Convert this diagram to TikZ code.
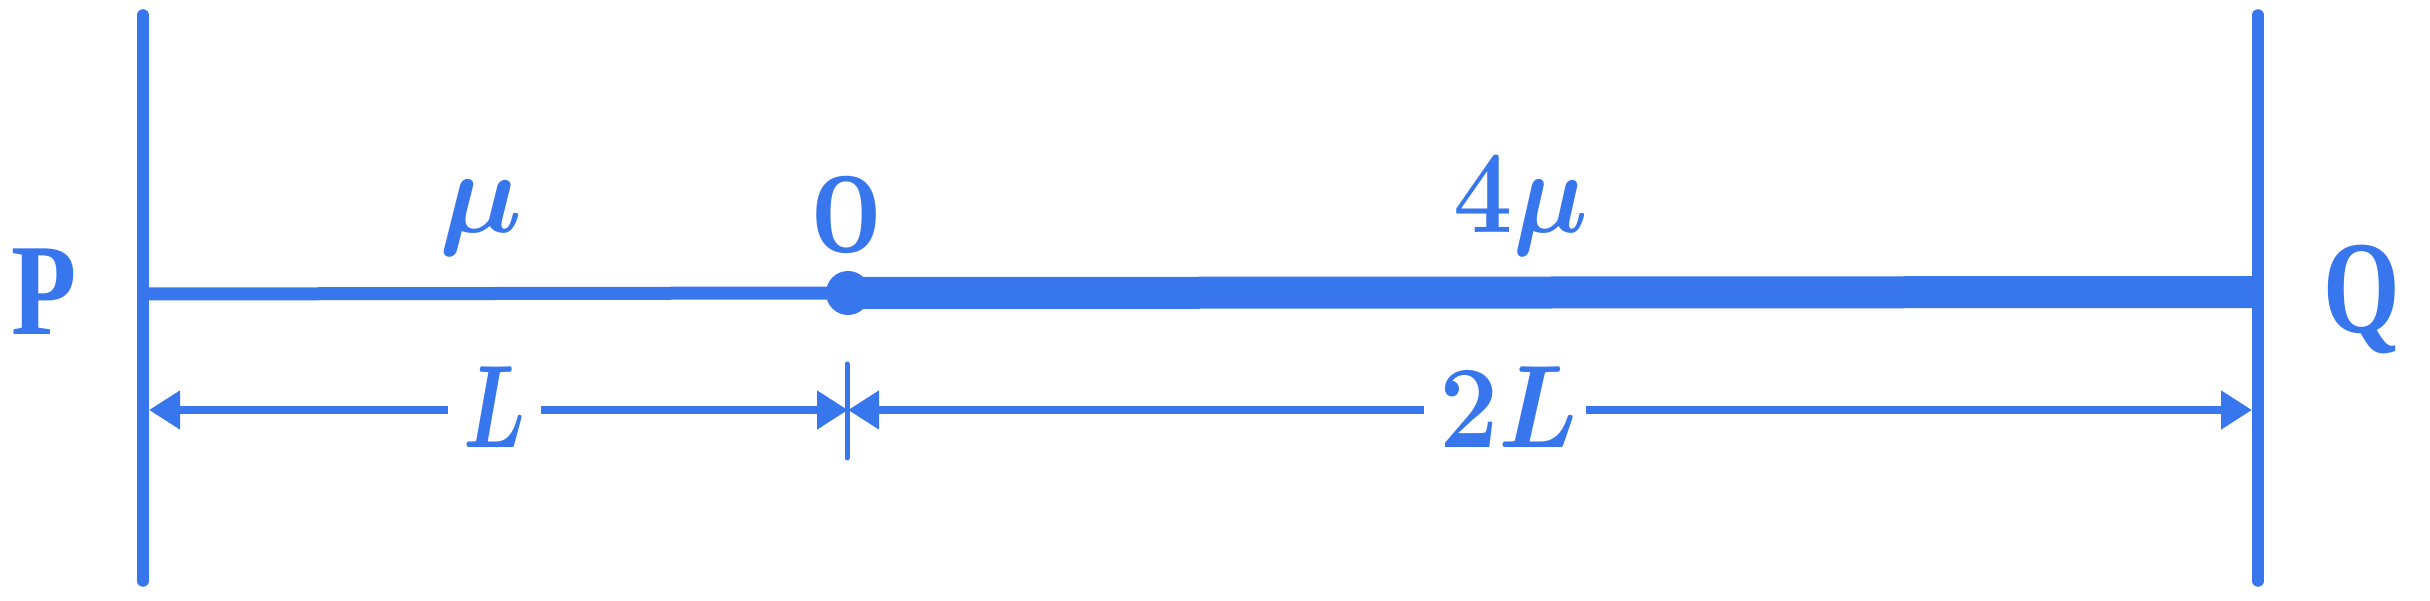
\documentclass[tikz,border=0pt]{standalone}
\usepackage{graphicx}
\usepackage{fontspec}
\newfontfamily\labfont{Liberation Serif}
\usetikzlibrary{arrows.meta}
\definecolor{ink}{HTML}{3776EC}
\newcommand{\mathlbl}[3]{\scalebox{#1}[#2]{\fontsize{12}{12}\selectfont\boldmath$#3$}}
\newcommand{\txtlbl}[3]{\scalebox{#1}[#2]{\fontsize{12}{12}\selectfont\labfont\bfseries #3}}
\begin{document}
\begin{tikzpicture}[x=1pt,y=-1pt,
  wall/.style={draw=ink,line width=11.5pt,line cap=round},
  thinstr/.style={draw=ink,line width=13pt},
  thickstr/.style={draw=ink,line width=32pt},
  dimline/.style={draw=ink,line width=8pt},
  dimarrow/.style={dimline,-{Triangle[length=31pt,width=37pt]}},
  lab/.style={text=ink,inner sep=0pt,anchor=base}]
\useasboundingbox (0,0) rectangle (2430,601);
% walls
\coordinate (pTop) at (143,15);
\coordinate (pBot) at (143,581);
\coordinate (qTop) at (2258,15);
\coordinate (qBot) at (2258,581);
\draw[wall] (pTop) -- (pBot);
\draw[wall] (qTop) -- (qBot);
% strings
\coordinate (pS) at (143,294);
\coordinate (oS) at (848,293);
\coordinate (qS) at (2258,292);
\draw[thinstr] (pS) -- (oS);
\draw[thickstr] (oS) -- (qS);
\fill[ink] (oS) circle (22pt);
% dimension
\coordinate (pD) at (149,410);
\coordinate (oD) at (848,410);
\coordinate (qD) at (2252,410);
\coordinate (oTopT) at (847,364);
\coordinate (oBotT) at (847,458);
\draw[ink,line width=5pt,line cap=round] (oTopT) -- (oBotT);
\node[lab] (L) at (495,447) {\mathlbl{6.9}{9.8}{L}};
\node[lab] (LL) at (1509,447) {\mathlbl{8.8}{9.8}{2L}};
\coordinate (l1) at (448,410);
\coordinate (l2) at (541,410);
\coordinate (l3) at (1424,410);
\coordinate (l4) at (1586,410);
\draw[dimarrow] (l1) -- (pD);
\draw[dimarrow] (l2) -- (oD);
\draw[dimarrow] (l3) -- (oD);
\draw[dimarrow] (l4) -- (qD);
% labels
\node[lab] (P) at (44,335) {\txtlbl{8.9}{10.9}{P}};
\node[lab] (O) at (847,253) {\txtlbl{7.3}{9.6}{O}};
\node[lab] (Q) at (2362,333) {\txtlbl{8.2}{11}{Q}};
\node[lab] (mu) at (481,233) {\mathlbl{9.8}{9.8}{\mu}};
\node[lab] (fmu) at (1521,233) {\mathlbl{8.8}{9.8}{4\mu}};
\end{tikzpicture}
\end{document}
